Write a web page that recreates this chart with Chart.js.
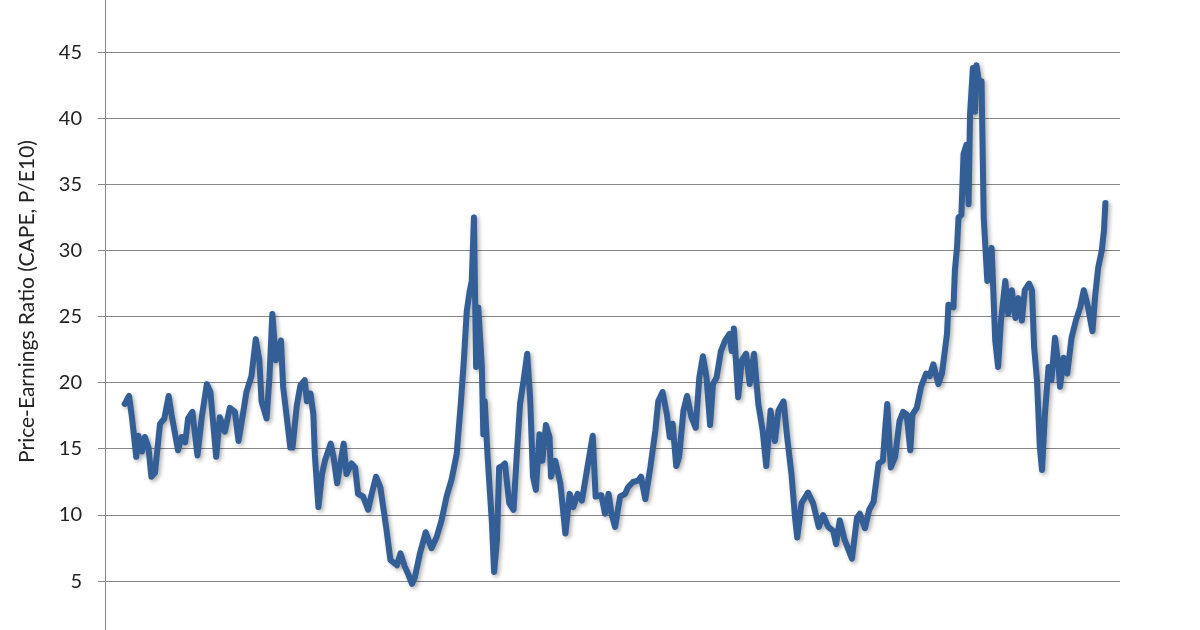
<!DOCTYPE html>
<html>
<head>
<meta charset="utf-8">
<script src="https://cdn.jsdelivr.net/npm/chart.js@4.4.1/dist/chart.umd.min.js"></script>
<style>
  html, body { margin: 0; padding: 0; background: #fff; overflow: hidden; }
  #wrap { position: absolute; left: 0; top: -30px; width: 1200px; height: 700px; }
</style>
</head>
<body>
<div id="wrap"><canvas id="cape"></canvas></div>
<script>
// Shiller CAPE (year, ratio)
const years = [
  1881.1, 1881.7, 1882.1, 1882.7, 1883.0, 1883.5, 1883.9, 1884.4, 1884.8, 1885.3,
  1886.0, 1886.6, 1887.2, 1887.6, 1888.5, 1889.0, 1889.5, 1889.9, 1890.5, 1891.2,
  1891.8, 1892.5, 1893.0, 1893.8, 1894.3, 1895.0, 1895.7, 1896.4, 1896.9, 1897.6,
  1898.0, 1898.7, 1899.3, 1899.8, 1900.1, 1900.8, 1901.2, 1901.6, 1902.1, 1902.8,
  1903.1, 1904.1, 1904.4, 1905.0, 1905.5, 1906.1, 1906.4, 1906.9, 1907.3, 1907.5,
  1908.0, 1908.5, 1908.9, 1909.7, 1910.1, 1910.6, 1911.5, 1911.9, 1912.6, 1913.1,
  1913.5, 1914.2, 1914.9, 1915.4, 1916.0, 1916.6, 1917.4, 1918.0, 1918.9, 1919.4,
  1920.0, 1920.5, 1921.0, 1921.4, 1922.1, 1922.9, 1923.7, 1924.4, 1925.1, 1925.8,
  1926.5, 1927.2, 1927.8, 1928.2, 1928.6, 1929.0, 1929.3, 1929.6, 1929.9, 1930.2,
  1930.7, 1930.9, 1931.1, 1931.5, 1932.1, 1932.4, 1932.8, 1933.1, 1933.5, 1933.9,
  1934.5, 1935.1, 1935.5, 1936.0, 1936.5, 1937.0, 1937.4, 1937.8, 1938.2, 1938.7,
  1939.1, 1939.6, 1940.1, 1940.3, 1940.9, 1941.6, 1942.3, 1942.9, 1943.4, 1944.0,
  1944.6, 1945.3, 1946.1, 1946.5, 1947.3, 1947.8, 1948.3, 1948.7, 1949.2, 1949.9,
  1950.6, 1951.0, 1951.7, 1952.4, 1952.8, 1953.4, 1954.1, 1954.8, 1955.2, 1955.8,
  1956.4, 1956.8, 1957.2, 1957.7, 1958.1, 1958.7, 1959.2, 1959.8, 1960.4, 1960.9,
  1961.4, 1961.9, 1962.4, 1962.8, 1963.3, 1963.9, 1964.5, 1965.1, 1965.4, 1965.7,
  1966.3, 1966.8, 1967.4, 1967.9, 1968.5, 1969.1, 1969.7, 1970.2, 1970.8, 1971.4,
  1971.9, 1972.6, 1973.1, 1973.7, 1974.2, 1974.5, 1975.1, 1976.0, 1976.7, 1977.5,
  1978.1, 1978.8, 1979.5, 1979.9, 1980.4, 1981.1, 1982.1, 1982.8, 1983.2, 1983.9,
  1984.5, 1985.1, 1985.8, 1986.4, 1986.7, 1987.0, 1987.5, 1988.1, 1988.7, 1989.2,
  1989.7, 1990.2, 1990.5, 1991.1, 1991.7, 1992.4, 1992.9, 1993.4, 1994.1, 1994.6,
  1995.3, 1995.5, 1996.2, 1996.4, 1996.7, 1996.9, 1997.3, 1997.6, 1998.0, 1998.3,
  1998.5, 1998.9, 1999.2, 1999.4, 1999.8, 2000.1, 2000.4, 2000.9, 2001.5, 2002.0,
  2002.4, 2002.8, 2003.4, 2003.8, 2004.3, 2004.8, 2005.2, 2005.7, 2006.1, 2006.7,
  2007.1, 2007.4, 2007.8, 2008.2, 2008.5, 2008.9, 2009.4, 2009.8, 2010.3, 2010.8,
  2011.0, 2011.5, 2012.0, 2012.6, 2013.2, 2013.8, 2014.3, 2014.9, 2015.5, 2015.9,
  2016.3, 2016.8, 2017.1, 2017.3
];
const cape = [
  18.4, 19.0, 17.4, 14.4, 16.0, 14.8, 15.9, 15.1, 12.9, 13.2,
  16.9, 17.3, 19.0, 17.6, 14.9, 15.9, 15.5, 17.3, 17.8, 14.5,
  17.4, 19.9, 19.3, 14.4, 17.4, 16.3, 18.1, 17.8, 15.6, 17.9,
  19.3, 20.5, 23.3, 21.7, 18.6, 17.3, 20.4, 25.2, 21.7, 23.2,
  19.7, 15.1, 15.1, 18.3, 19.8, 20.2, 18.6, 19.2, 17.6, 14.6,
  10.6, 13.1, 14.1, 15.4, 14.4, 12.4, 15.4, 13.1, 13.9, 13.6,
  11.6, 11.4, 10.4, 11.6, 12.9, 12.1, 9.1, 6.6, 6.2, 7.1,
  6.1, 5.5, 4.8, 5.3, 7.1, 8.7, 7.5, 8.3, 9.6, 11.4,
  12.7, 14.6, 18.6, 21.7, 25.4, 26.9, 27.7, 32.5, 21.2, 25.7,
  21.2, 16.1, 18.6, 14.4, 9.4, 5.7, 8.1, 13.6, 13.7, 13.9,
  10.9, 10.4, 14.1, 18.4, 20.2, 22.2, 18.9, 12.9, 11.9, 16.1,
  14.1, 16.8, 15.9, 12.9, 14.1, 12.4, 8.6, 11.6, 10.6, 11.6,
  11.1, 13.4, 16.0, 11.4, 11.5, 10.1, 11.6, 10.1, 9.1, 11.4,
  11.6, 12.1, 12.5, 12.6, 12.9, 11.2, 13.6, 16.4, 18.6, 19.3,
  17.6, 15.9, 16.9, 13.7, 14.4, 17.9, 19.0, 17.4, 16.6, 20.4,
  22.0, 20.4, 16.8, 19.9, 20.4, 22.4, 23.2, 23.7, 22.4, 24.1,
  18.9, 21.7, 22.2, 19.9, 22.2, 18.4, 16.4, 13.7, 17.9, 15.6,
  17.9, 18.6, 15.9, 13.1, 9.8, 8.3, 10.9, 11.7, 10.9, 9.1,
  10.0, 9.1, 8.8, 7.8, 9.6, 8.1, 6.7, 9.8, 10.1, 9.0,
  10.4, 11.0, 13.9, 14.1, 16.4, 18.4, 13.6, 14.4, 17.1, 17.8,
  17.6, 14.9, 17.6, 18.1, 19.7, 20.7, 20.5, 21.4, 19.9, 20.7,
  23.7, 25.9, 25.7, 28.5, 30.3, 32.5, 32.7, 37.3, 38.0, 33.5,
  40.3, 43.8, 40.5, 44.0, 42.5, 42.8, 32.5, 27.7, 30.2, 23.2,
  21.2, 24.7, 27.7, 25.2, 27.0, 24.9, 26.4, 24.7, 27.0, 27.5,
  27.0, 22.7, 20.2, 15.1, 13.4, 17.6, 21.2, 20.2, 23.4, 21.2,
  19.7, 21.9, 20.7, 23.4, 24.7, 25.7, 27.0, 25.7, 23.9, 26.7,
  28.7, 30.0, 31.5, 33.6
];
const yTicks = [0, 5, 10, 15, 20, 25, 30, 35, 40, 45, 50];
const yTitle = "Price-Earnings Ratio (CAPE, P/E10)";

const FONT = "Lato, 'Open Sans', sans-serif";

// soft drop shadow under the line, like the spreadsheet style
const lineShadow = {
  id: "lineShadow",
  beforeDatasetDraw(chart) {
    const ctx = chart.ctx;
    ctx.save();
    ctx.shadowColor = "rgba(0,0,0,0.32)";
    ctx.shadowBlur = 4;
    ctx.shadowOffsetX = 2;
    ctx.shadowOffsetY = 2;
  },
  afterDatasetDraw(chart) {
    chart.ctx.restore();
  }
};

// rotated axis title, placed where the original has it
const sideTitle = {
  id: "sideTitle",
  afterDraw(chart) {
    const ctx = chart.ctx;
    ctx.save();
    ctx.translate(27, 331.5);
    ctx.rotate(-Math.PI / 2);
    ctx.font = "21px " + FONT;
    ctx.fillStyle = "#222";
    ctx.textAlign = "center";
    ctx.textBaseline = "middle";
    ctx.fillText(yTitle, 0, 0);
    ctx.restore();
  }
};

new Chart(document.getElementById("cape"), {
  type: "line",
  data: {
    datasets: [{
      label: "CAPE",
      data: years.map((yr, i) => ({ x: yr, y: cape[i] })),
      borderColor: "#345E96",
      borderWidth: 6,
      borderJoinStyle: "round",
      borderCapStyle: "round",
      pointRadius: 0,
      tension: 0,
      fill: false
    }]
  },
  options: {
    responsive: true,
    maintainAspectRatio: false,
    animation: false,
    layout: { padding: { top: 16, bottom: 22.7, left: 0, right: 80 } },
    plugins: {
      legend: { display: false },
      tooltip: { enabled: false }
    },
    scales: {
      x: {
        type: "linear",
        display: false,
        min: 1878.36,
        max: 2019.33
      },
      y: {
        min: 0,
        max: 50,
        afterBuildTicks: (scale) => { scale.ticks = yTicks.map(v => ({ value: v })); },
        afterFit: (scale) => {
          scale.width = 105;
          scale.paddingTop = 0;
          scale.paddingBottom = 0;
        },
        border: { display: true, color: "#868686", width: 1 },
        grid: {
          color: "#868686",
          lineWidth: 1,
          drawTicks: true,
          tickLength: 7,
          tickColor: "#868686"
        },
        ticks: {
          padding: 16,
          color: "#222",
          font: { family: FONT, size: 20 }
        }
      }
    }
  },
  plugins: [lineShadow, sideTitle]
});
</script>
</body>
</html>
